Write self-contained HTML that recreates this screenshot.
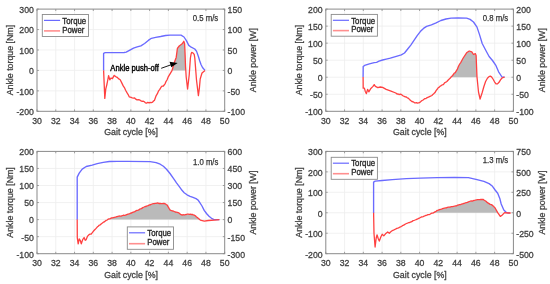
<!DOCTYPE html>
<html><head><meta charset="utf-8"><style>
html,body{margin:0;padding:0;background:#fff;}
body{width:550px;height:284px;overflow:hidden;}
svg{display:block;filter:blur(0.3px);}
text{font-family:"Liberation Sans", Arial, Helvetica, sans-serif;}
.t{font-size:8.7px;fill:#404040;stroke:#404040;stroke-width:0.28px;}
.l{font-size:8.8px;fill:#404040;stroke:#404040;stroke-width:0.28px;}
.g{font-size:8.4px;fill:#262626;stroke:#262626;stroke-width:0.32px;}
.s{font-size:8.7px;fill:#333;stroke:#333;stroke-width:0.25px;}
.a{font-size:8.3px;fill:#000;stroke:#000;stroke-width:0.38px;}
</style></head><body>
<svg width="550" height="284" viewBox="0 0 550 284">
<rect width="550" height="284" fill="#fff"/>
<line x1="55.77" y1="9.10" x2="55.77" y2="111.30" stroke="#eeeeee" stroke-width="0.8"/>
<line x1="74.54" y1="9.10" x2="74.54" y2="111.30" stroke="#eeeeee" stroke-width="0.8"/>
<line x1="93.31" y1="9.10" x2="93.31" y2="111.30" stroke="#eeeeee" stroke-width="0.8"/>
<line x1="112.08" y1="9.10" x2="112.08" y2="111.30" stroke="#eeeeee" stroke-width="0.8"/>
<line x1="130.85" y1="9.10" x2="130.85" y2="111.30" stroke="#eeeeee" stroke-width="0.8"/>
<line x1="149.62" y1="9.10" x2="149.62" y2="111.30" stroke="#eeeeee" stroke-width="0.8"/>
<line x1="168.39" y1="9.10" x2="168.39" y2="111.30" stroke="#eeeeee" stroke-width="0.8"/>
<line x1="187.16" y1="9.10" x2="187.16" y2="111.30" stroke="#eeeeee" stroke-width="0.8"/>
<line x1="205.93" y1="9.10" x2="205.93" y2="111.30" stroke="#eeeeee" stroke-width="0.8"/>
<line x1="37.00" y1="29.54" x2="224.70" y2="29.54" stroke="#eeeeee" stroke-width="0.8"/>
<line x1="37.00" y1="49.98" x2="224.70" y2="49.98" stroke="#eeeeee" stroke-width="0.8"/>
<line x1="37.00" y1="70.42" x2="224.70" y2="70.42" stroke="#eeeeee" stroke-width="0.8"/>
<line x1="37.00" y1="90.86" x2="224.70" y2="90.86" stroke="#eeeeee" stroke-width="0.8"/>
<polygon points="172.1,70.4 174.4,62.2 176.2,57.4 177.4,48.4 179.2,46.0 181.6,44.2 182.8,43.0 183.8,41.2 184.6,43.6 185.0,52.0 185.5,66.0 185.8,70.4" fill="#bababa"/>
<polyline points="103.6,70.4 103.6,53.4 105.2,52.7 112.0,52.6 120.0,52.6 124.0,52.5 126.2,52.2 129.9,50.2 133.5,48.2 137.2,46.9 140.9,45.9 144.6,43.5 148.3,40.4 151.4,38.3 155.7,37.3 160.6,36.5 165.6,35.5 170.0,35.1 181.0,35.2 184.0,37.0 186.4,40.6 188.8,45.4 191.2,47.2 194.8,49.0 196.6,51.4 198.4,56.5 199.6,60.5 201.0,64.5 202.5,67.5 205.0,70.4" fill="none" stroke="#6a6aff" stroke-width="1.35" stroke-linejoin="round"/>
<polyline points="103.6,70.4 104.8,98.4 105.8,88.8 107.0,84.0 108.6,75.6 109.8,79.8 111.0,78.0 112.4,78.6 114.2,75.4 116.0,76.8 117.2,77.3 118.4,78.6 120.2,79.8 122.0,83.4 123.2,85.9 124.4,87.6 125.6,90.3 126.8,92.4 128.0,94.3 129.2,96.8 130.2,97.1 131.2,97.4 132.2,97.8 133.4,98.1 134.6,98.0 135.8,99.2 137.0,99.8 138.2,99.6 139.4,99.8 140.6,100.6 141.8,101.3 143.0,101.2 144.2,101.6 145.4,102.8 146.6,103.1 147.8,102.3 149.0,102.8 150.2,102.5 151.4,102.6 152.6,102.2 153.5,101.0 154.4,100.4 156.2,95.6 157.4,93.7 158.6,90.8 159.8,89.4 161.0,87.2 162.2,86.1 163.4,86.0 165.2,83.6 166.1,81.3 167.0,80.0 168.4,76.6 172.0,70.6 174.4,62.2 176.2,57.4 177.4,48.4 179.2,46.0 181.6,44.2 182.8,43.0 183.8,41.2 184.6,43.6 185.0,52.0 185.5,66.0 186.2,77.0 187.6,89.0 189.2,75.0 190.4,58.0 191.2,53.5 191.8,52.4 193.0,53.0 194.2,54.4 194.8,58.0 196.5,80.0 198.4,95.6 199.4,88.0 200.2,79.0 202.0,73.0 205.0,70.4" fill="none" stroke="#ff4040" stroke-width="1.3" stroke-linejoin="round"/>
<line x1="37.00" y1="111.30" x2="37.00" y2="109.40" stroke="#8a8a8a" stroke-width="0.8"/>
<line x1="37.00" y1="9.10" x2="37.00" y2="11.00" stroke="#8a8a8a" stroke-width="0.8"/>
<line x1="55.77" y1="111.30" x2="55.77" y2="109.40" stroke="#8a8a8a" stroke-width="0.8"/>
<line x1="55.77" y1="9.10" x2="55.77" y2="11.00" stroke="#8a8a8a" stroke-width="0.8"/>
<line x1="74.54" y1="111.30" x2="74.54" y2="109.40" stroke="#8a8a8a" stroke-width="0.8"/>
<line x1="74.54" y1="9.10" x2="74.54" y2="11.00" stroke="#8a8a8a" stroke-width="0.8"/>
<line x1="93.31" y1="111.30" x2="93.31" y2="109.40" stroke="#8a8a8a" stroke-width="0.8"/>
<line x1="93.31" y1="9.10" x2="93.31" y2="11.00" stroke="#8a8a8a" stroke-width="0.8"/>
<line x1="112.08" y1="111.30" x2="112.08" y2="109.40" stroke="#8a8a8a" stroke-width="0.8"/>
<line x1="112.08" y1="9.10" x2="112.08" y2="11.00" stroke="#8a8a8a" stroke-width="0.8"/>
<line x1="130.85" y1="111.30" x2="130.85" y2="109.40" stroke="#8a8a8a" stroke-width="0.8"/>
<line x1="130.85" y1="9.10" x2="130.85" y2="11.00" stroke="#8a8a8a" stroke-width="0.8"/>
<line x1="149.62" y1="111.30" x2="149.62" y2="109.40" stroke="#8a8a8a" stroke-width="0.8"/>
<line x1="149.62" y1="9.10" x2="149.62" y2="11.00" stroke="#8a8a8a" stroke-width="0.8"/>
<line x1="168.39" y1="111.30" x2="168.39" y2="109.40" stroke="#8a8a8a" stroke-width="0.8"/>
<line x1="168.39" y1="9.10" x2="168.39" y2="11.00" stroke="#8a8a8a" stroke-width="0.8"/>
<line x1="187.16" y1="111.30" x2="187.16" y2="109.40" stroke="#8a8a8a" stroke-width="0.8"/>
<line x1="187.16" y1="9.10" x2="187.16" y2="11.00" stroke="#8a8a8a" stroke-width="0.8"/>
<line x1="205.93" y1="111.30" x2="205.93" y2="109.40" stroke="#8a8a8a" stroke-width="0.8"/>
<line x1="205.93" y1="9.10" x2="205.93" y2="11.00" stroke="#8a8a8a" stroke-width="0.8"/>
<line x1="224.70" y1="111.30" x2="224.70" y2="109.40" stroke="#8a8a8a" stroke-width="0.8"/>
<line x1="224.70" y1="9.10" x2="224.70" y2="11.00" stroke="#8a8a8a" stroke-width="0.8"/>
<line x1="37.00" y1="9.10" x2="38.90" y2="9.10" stroke="#8a8a8a" stroke-width="0.8"/>
<line x1="224.70" y1="9.10" x2="222.80" y2="9.10" stroke="#8a8a8a" stroke-width="0.8"/>
<line x1="37.00" y1="29.54" x2="38.90" y2="29.54" stroke="#8a8a8a" stroke-width="0.8"/>
<line x1="224.70" y1="29.54" x2="222.80" y2="29.54" stroke="#8a8a8a" stroke-width="0.8"/>
<line x1="37.00" y1="49.98" x2="38.90" y2="49.98" stroke="#8a8a8a" stroke-width="0.8"/>
<line x1="224.70" y1="49.98" x2="222.80" y2="49.98" stroke="#8a8a8a" stroke-width="0.8"/>
<line x1="37.00" y1="70.42" x2="38.90" y2="70.42" stroke="#8a8a8a" stroke-width="0.8"/>
<line x1="224.70" y1="70.42" x2="222.80" y2="70.42" stroke="#8a8a8a" stroke-width="0.8"/>
<line x1="37.00" y1="90.86" x2="38.90" y2="90.86" stroke="#8a8a8a" stroke-width="0.8"/>
<line x1="224.70" y1="90.86" x2="222.80" y2="90.86" stroke="#8a8a8a" stroke-width="0.8"/>
<line x1="37.00" y1="111.30" x2="38.90" y2="111.30" stroke="#8a8a8a" stroke-width="0.8"/>
<line x1="224.70" y1="111.30" x2="222.80" y2="111.30" stroke="#8a8a8a" stroke-width="0.8"/>
<rect x="37.00" y="9.10" width="187.70" height="102.20" fill="none" stroke="#8a8a8a" stroke-width="1"/>
<text x="37.00" y="123.60" text-anchor="middle" class="t">30</text>
<text x="55.77" y="123.60" text-anchor="middle" class="t">32</text>
<text x="74.54" y="123.60" text-anchor="middle" class="t">34</text>
<text x="93.31" y="123.60" text-anchor="middle" class="t">36</text>
<text x="112.08" y="123.60" text-anchor="middle" class="t">38</text>
<text x="130.85" y="123.60" text-anchor="middle" class="t">40</text>
<text x="149.62" y="123.60" text-anchor="middle" class="t">42</text>
<text x="168.39" y="123.60" text-anchor="middle" class="t">44</text>
<text x="187.16" y="123.60" text-anchor="middle" class="t">46</text>
<text x="205.93" y="123.60" text-anchor="middle" class="t">48</text>
<text x="224.70" y="123.60" text-anchor="middle" class="t">50</text>
<text x="33.80" y="12.95" text-anchor="end" class="t">300</text>
<text x="227.60" y="12.95" text-anchor="start" class="t">150</text>
<text x="33.80" y="33.39" text-anchor="end" class="t">200</text>
<text x="227.60" y="33.39" text-anchor="start" class="t">100</text>
<text x="33.80" y="53.83" text-anchor="end" class="t">100</text>
<text x="227.60" y="53.83" text-anchor="start" class="t">50</text>
<text x="33.80" y="74.27" text-anchor="end" class="t">0</text>
<text x="227.60" y="74.27" text-anchor="start" class="t">0</text>
<text x="33.80" y="94.71" text-anchor="end" class="t">-100</text>
<text x="227.60" y="94.71" text-anchor="start" class="t">-50</text>
<text x="33.80" y="115.15" text-anchor="end" class="t">-200</text>
<text x="227.60" y="115.15" text-anchor="start" class="t">-100</text>
<text x="131.15" y="135.30" text-anchor="middle" class="l">Gait cycle [%]</text>
<text transform="translate(13.30,60.10) rotate(-90)" text-anchor="middle" class="l">Ankle torque [Nm]</text>
<text transform="translate(256.10,60.20) rotate(-90)" text-anchor="middle" class="l">Ankle power [W]</text>
<line x1="344.56" y1="9.10" x2="344.56" y2="111.30" stroke="#eeeeee" stroke-width="0.8"/>
<line x1="363.32" y1="9.10" x2="363.32" y2="111.30" stroke="#eeeeee" stroke-width="0.8"/>
<line x1="382.08" y1="9.10" x2="382.08" y2="111.30" stroke="#eeeeee" stroke-width="0.8"/>
<line x1="400.84" y1="9.10" x2="400.84" y2="111.30" stroke="#eeeeee" stroke-width="0.8"/>
<line x1="419.60" y1="9.10" x2="419.60" y2="111.30" stroke="#eeeeee" stroke-width="0.8"/>
<line x1="438.36" y1="9.10" x2="438.36" y2="111.30" stroke="#eeeeee" stroke-width="0.8"/>
<line x1="457.12" y1="9.10" x2="457.12" y2="111.30" stroke="#eeeeee" stroke-width="0.8"/>
<line x1="475.88" y1="9.10" x2="475.88" y2="111.30" stroke="#eeeeee" stroke-width="0.8"/>
<line x1="494.64" y1="9.10" x2="494.64" y2="111.30" stroke="#eeeeee" stroke-width="0.8"/>
<line x1="325.80" y1="26.13" x2="513.40" y2="26.13" stroke="#eeeeee" stroke-width="0.8"/>
<line x1="325.80" y1="43.17" x2="513.40" y2="43.17" stroke="#eeeeee" stroke-width="0.8"/>
<line x1="325.80" y1="60.20" x2="513.40" y2="60.20" stroke="#eeeeee" stroke-width="0.8"/>
<line x1="325.80" y1="77.23" x2="513.40" y2="77.23" stroke="#eeeeee" stroke-width="0.8"/>
<line x1="325.80" y1="94.27" x2="513.40" y2="94.27" stroke="#eeeeee" stroke-width="0.8"/>
<polygon points="450.8,77.2 451.1,76.9 456.3,70.9 459.7,64.0 463.2,58.0 466.6,52.8 469.2,51.0 471.8,51.9 473.5,54.5 475.3,53.6 476.1,55.4 477.0,77.0 477.0,77.2" fill="#bababa"/>
<polyline points="363.1,77.1 363.2,66.6 364.6,65.4 369.4,63.8 374.2,62.6 376.6,62.4 379.0,61.2 382.6,60.0 386.2,59.2 390.3,58.2 396.3,56.3 401.3,54.9 404.5,53.0 407.7,49.0 410.8,45.1 414.0,40.3 417.2,35.6 420.3,31.6 423.5,28.4 426.6,26.4 431.4,24.8 436.1,22.9 440.9,20.5 445.9,19.0 451.1,18.2 458.0,18.0 466.6,18.2 470.1,19.4 473.5,22.0 477.0,27.1 479.6,34.9 482.2,43.5 485.6,50.0 489.1,56.5 492.5,60.5 496.0,65.7 498.6,71.8 502.0,77.0 504.6,77.1" fill="none" stroke="#6a6aff" stroke-width="1.35" stroke-linejoin="round"/>
<polyline points="363.1,77.1 363.2,88.2 364.4,88.2 365.2,91.2 366.4,93.6 367.6,89.4 368.8,91.8 370.6,88.8 373.0,86.4 374.2,84.6 375.4,86.4 377.8,87.6 380.2,87.0 382.6,87.4 386.2,89.4 391.0,91.2 395.8,93.0 397.0,94.0 398.2,94.0 399.2,94.7 400.2,94.2 401.3,94.5 402.3,95.2 403.3,96.0 404.3,96.4 405.3,96.9 406.3,97.0 407.3,97.8 408.3,98.2 409.5,99.4 410.7,100.5 411.9,101.5 413.2,101.8 414.5,102.8 415.4,102.8 416.4,102.7 417.4,103.1 418.3,102.9 419.2,102.8 420.2,102.1 421.2,101.1 422.1,100.5 423.1,100.0 424.0,99.3 424.9,98.6 425.9,98.6 426.9,97.6 427.9,97.5 429.0,96.8 430.0,96.3 431.0,95.9 431.9,95.5 432.9,94.4 433.9,93.6 434.8,92.8 436.1,90.6 437.4,89.0 438.3,87.7 439.3,87.1 440.2,86.1 441.2,85.6 442.1,84.9 443.1,84.7 444.0,83.7 445.0,82.5 445.9,82.1 446.9,81.5 448.0,80.3 449.0,79.2 450.1,78.3 451.1,76.9 452.1,76.0 453.2,74.8 454.2,73.2 455.3,72.6 456.3,70.9 457.4,69.1 458.6,66.0 459.7,64.0 460.9,62.3 462.0,60.2 463.2,58.0 466.6,52.8 469.2,51.0 471.8,51.9 473.5,54.5 475.3,53.6 476.1,55.4 477.0,77.0 478.5,92.0 480.1,99.0 482.2,92.5 483.9,86.5 485.6,81.5 487.4,78.3 489.0,76.6 490.3,76.2 491.5,76.8 493.0,79.0 494.5,81.8 496.0,83.8 497.5,83.9 499.0,82.3 500.5,79.8 502.0,78.0 503.5,77.3 504.6,77.2" fill="none" stroke="#ff4040" stroke-width="1.3" stroke-linejoin="round"/>
<line x1="325.80" y1="111.30" x2="325.80" y2="109.40" stroke="#8a8a8a" stroke-width="0.8"/>
<line x1="325.80" y1="9.10" x2="325.80" y2="11.00" stroke="#8a8a8a" stroke-width="0.8"/>
<line x1="344.56" y1="111.30" x2="344.56" y2="109.40" stroke="#8a8a8a" stroke-width="0.8"/>
<line x1="344.56" y1="9.10" x2="344.56" y2="11.00" stroke="#8a8a8a" stroke-width="0.8"/>
<line x1="363.32" y1="111.30" x2="363.32" y2="109.40" stroke="#8a8a8a" stroke-width="0.8"/>
<line x1="363.32" y1="9.10" x2="363.32" y2="11.00" stroke="#8a8a8a" stroke-width="0.8"/>
<line x1="382.08" y1="111.30" x2="382.08" y2="109.40" stroke="#8a8a8a" stroke-width="0.8"/>
<line x1="382.08" y1="9.10" x2="382.08" y2="11.00" stroke="#8a8a8a" stroke-width="0.8"/>
<line x1="400.84" y1="111.30" x2="400.84" y2="109.40" stroke="#8a8a8a" stroke-width="0.8"/>
<line x1="400.84" y1="9.10" x2="400.84" y2="11.00" stroke="#8a8a8a" stroke-width="0.8"/>
<line x1="419.60" y1="111.30" x2="419.60" y2="109.40" stroke="#8a8a8a" stroke-width="0.8"/>
<line x1="419.60" y1="9.10" x2="419.60" y2="11.00" stroke="#8a8a8a" stroke-width="0.8"/>
<line x1="438.36" y1="111.30" x2="438.36" y2="109.40" stroke="#8a8a8a" stroke-width="0.8"/>
<line x1="438.36" y1="9.10" x2="438.36" y2="11.00" stroke="#8a8a8a" stroke-width="0.8"/>
<line x1="457.12" y1="111.30" x2="457.12" y2="109.40" stroke="#8a8a8a" stroke-width="0.8"/>
<line x1="457.12" y1="9.10" x2="457.12" y2="11.00" stroke="#8a8a8a" stroke-width="0.8"/>
<line x1="475.88" y1="111.30" x2="475.88" y2="109.40" stroke="#8a8a8a" stroke-width="0.8"/>
<line x1="475.88" y1="9.10" x2="475.88" y2="11.00" stroke="#8a8a8a" stroke-width="0.8"/>
<line x1="494.64" y1="111.30" x2="494.64" y2="109.40" stroke="#8a8a8a" stroke-width="0.8"/>
<line x1="494.64" y1="9.10" x2="494.64" y2="11.00" stroke="#8a8a8a" stroke-width="0.8"/>
<line x1="513.40" y1="111.30" x2="513.40" y2="109.40" stroke="#8a8a8a" stroke-width="0.8"/>
<line x1="513.40" y1="9.10" x2="513.40" y2="11.00" stroke="#8a8a8a" stroke-width="0.8"/>
<line x1="325.80" y1="9.10" x2="327.70" y2="9.10" stroke="#8a8a8a" stroke-width="0.8"/>
<line x1="513.40" y1="9.10" x2="511.50" y2="9.10" stroke="#8a8a8a" stroke-width="0.8"/>
<line x1="325.80" y1="26.13" x2="327.70" y2="26.13" stroke="#8a8a8a" stroke-width="0.8"/>
<line x1="513.40" y1="26.13" x2="511.50" y2="26.13" stroke="#8a8a8a" stroke-width="0.8"/>
<line x1="325.80" y1="43.17" x2="327.70" y2="43.17" stroke="#8a8a8a" stroke-width="0.8"/>
<line x1="513.40" y1="43.17" x2="511.50" y2="43.17" stroke="#8a8a8a" stroke-width="0.8"/>
<line x1="325.80" y1="60.20" x2="327.70" y2="60.20" stroke="#8a8a8a" stroke-width="0.8"/>
<line x1="513.40" y1="60.20" x2="511.50" y2="60.20" stroke="#8a8a8a" stroke-width="0.8"/>
<line x1="325.80" y1="77.23" x2="327.70" y2="77.23" stroke="#8a8a8a" stroke-width="0.8"/>
<line x1="513.40" y1="77.23" x2="511.50" y2="77.23" stroke="#8a8a8a" stroke-width="0.8"/>
<line x1="325.80" y1="94.27" x2="327.70" y2="94.27" stroke="#8a8a8a" stroke-width="0.8"/>
<line x1="513.40" y1="94.27" x2="511.50" y2="94.27" stroke="#8a8a8a" stroke-width="0.8"/>
<line x1="325.80" y1="111.30" x2="327.70" y2="111.30" stroke="#8a8a8a" stroke-width="0.8"/>
<line x1="513.40" y1="111.30" x2="511.50" y2="111.30" stroke="#8a8a8a" stroke-width="0.8"/>
<rect x="325.80" y="9.10" width="187.60" height="102.20" fill="none" stroke="#8a8a8a" stroke-width="1"/>
<text x="325.80" y="123.60" text-anchor="middle" class="t">30</text>
<text x="344.56" y="123.60" text-anchor="middle" class="t">32</text>
<text x="363.32" y="123.60" text-anchor="middle" class="t">34</text>
<text x="382.08" y="123.60" text-anchor="middle" class="t">36</text>
<text x="400.84" y="123.60" text-anchor="middle" class="t">38</text>
<text x="419.60" y="123.60" text-anchor="middle" class="t">40</text>
<text x="438.36" y="123.60" text-anchor="middle" class="t">42</text>
<text x="457.12" y="123.60" text-anchor="middle" class="t">44</text>
<text x="475.88" y="123.60" text-anchor="middle" class="t">46</text>
<text x="494.64" y="123.60" text-anchor="middle" class="t">48</text>
<text x="513.40" y="123.60" text-anchor="middle" class="t">50</text>
<text x="322.60" y="12.95" text-anchor="end" class="t">200</text>
<text x="516.30" y="12.95" text-anchor="start" class="t">200</text>
<text x="322.60" y="29.98" text-anchor="end" class="t">150</text>
<text x="516.30" y="29.98" text-anchor="start" class="t">150</text>
<text x="322.60" y="47.02" text-anchor="end" class="t">100</text>
<text x="516.30" y="47.02" text-anchor="start" class="t">100</text>
<text x="322.60" y="64.05" text-anchor="end" class="t">50</text>
<text x="516.30" y="64.05" text-anchor="start" class="t">50</text>
<text x="322.60" y="81.08" text-anchor="end" class="t">0</text>
<text x="516.30" y="81.08" text-anchor="start" class="t">0</text>
<text x="322.60" y="98.12" text-anchor="end" class="t">-50</text>
<text x="516.30" y="98.12" text-anchor="start" class="t">-50</text>
<text x="322.60" y="115.15" text-anchor="end" class="t">-100</text>
<text x="516.30" y="115.15" text-anchor="start" class="t">-100</text>
<text x="419.90" y="135.30" text-anchor="middle" class="l">Gait cycle [%]</text>
<text transform="translate(302.10,60.10) rotate(-90)" text-anchor="middle" class="l">Ankle torque [Nm]</text>
<text transform="translate(544.80,60.20) rotate(-90)" text-anchor="middle" class="l">Ankle power [W]</text>
<line x1="55.77" y1="151.40" x2="55.77" y2="253.70" stroke="#eeeeee" stroke-width="0.8"/>
<line x1="74.54" y1="151.40" x2="74.54" y2="253.70" stroke="#eeeeee" stroke-width="0.8"/>
<line x1="93.31" y1="151.40" x2="93.31" y2="253.70" stroke="#eeeeee" stroke-width="0.8"/>
<line x1="112.08" y1="151.40" x2="112.08" y2="253.70" stroke="#eeeeee" stroke-width="0.8"/>
<line x1="130.85" y1="151.40" x2="130.85" y2="253.70" stroke="#eeeeee" stroke-width="0.8"/>
<line x1="149.62" y1="151.40" x2="149.62" y2="253.70" stroke="#eeeeee" stroke-width="0.8"/>
<line x1="168.39" y1="151.40" x2="168.39" y2="253.70" stroke="#eeeeee" stroke-width="0.8"/>
<line x1="187.16" y1="151.40" x2="187.16" y2="253.70" stroke="#eeeeee" stroke-width="0.8"/>
<line x1="205.93" y1="151.40" x2="205.93" y2="253.70" stroke="#eeeeee" stroke-width="0.8"/>
<line x1="37.00" y1="168.45" x2="224.70" y2="168.45" stroke="#eeeeee" stroke-width="0.8"/>
<line x1="37.00" y1="185.50" x2="224.70" y2="185.50" stroke="#eeeeee" stroke-width="0.8"/>
<line x1="37.00" y1="202.55" x2="224.70" y2="202.55" stroke="#eeeeee" stroke-width="0.8"/>
<line x1="37.00" y1="219.60" x2="224.70" y2="219.60" stroke="#eeeeee" stroke-width="0.8"/>
<line x1="37.00" y1="236.65" x2="224.70" y2="236.65" stroke="#eeeeee" stroke-width="0.8"/>
<polygon points="107.5,219.6 108.1,219.2 112.3,217.8 118.0,216.3 120.0,216.1 125.4,215.1 128.0,214.1 133.4,212.1 136.1,210.7 141.4,208.6 144.1,207.0 152.1,204.0 157.1,203.0 160.2,203.4 164.2,203.4 167.2,205.0 170.2,210.1 174.2,211.5 178.2,212.7 182.2,215.1 186.3,214.5 190.3,214.1 194.3,215.1 197.3,217.5 199.7,219.6" fill="#bababa"/>
<polyline points="77.2,219.7 77.2,177.1 79.2,173.1 82.2,169.1 86.2,166.5 92.2,165.1 97.2,163.7 103.3,162.4 109.3,161.5 117.3,161.3 127.4,161.3 150.1,161.6 156.1,162.6 160.2,164.2 163.4,166.3 166.5,169.2 170.0,173.5 173.6,178.6 176.5,182.8 179.5,186.8 182.0,190.3 184.2,192.7 187.0,194.8 190.1,196.3 193.0,197.4 196.0,198.6 198.0,200.0 199.5,202.2 202.0,206.0 204.2,210.4 206.5,213.5 209.0,216.3 211.5,218.3 213.7,219.3 215.4,219.6 219.4,219.6" fill="none" stroke="#6a6aff" stroke-width="1.35" stroke-linejoin="round"/>
<polyline points="77.2,219.6 77.3,238.0 78.2,243.8 79.2,238.9 80.2,240.3 81.3,243.8 82.7,239.6 84.1,237.5 85.2,240.3 86.2,239.6 87.6,236.1 89.0,234.7 90.1,234.2 91.2,234.0 92.1,232.9 93.1,231.6 94.0,230.5 95.0,229.5 96.1,228.4 97.2,227.1 98.2,226.2 99.2,225.2 100.3,224.8 101.4,223.7 102.4,223.0 103.4,222.2 104.3,221.9 105.3,221.0 106.2,220.4 107.2,220.0 108.1,219.2 109.1,218.8 110.2,218.6 111.2,218.0 112.3,217.8 113.2,217.6 114.2,217.5 115.2,217.1 116.1,216.9 117.0,216.6 118.0,216.3 119.0,216.0 120.0,216.1 120.9,216.1 121.8,215.8 122.7,215.5 123.6,215.2 124.5,215.4 125.4,215.1 126.7,214.6 128.0,214.1 128.9,213.9 129.8,213.6 130.7,213.2 131.6,213.0 132.5,212.4 133.4,212.1 134.8,211.6 136.1,210.7 137.2,210.3 138.2,210.1 139.3,209.6 140.3,208.8 141.4,208.6 142.8,207.6 144.1,207.0 145.1,206.5 146.1,206.5 147.1,205.8 148.1,205.6 149.1,205.0 150.1,204.8 151.1,204.3 152.1,204.0 153.1,203.7 154.1,203.6 155.1,203.4 156.1,203.4 157.1,203.0 158.1,203.2 159.2,203.5 160.2,203.4 161.2,203.6 162.2,203.6 163.2,203.5 164.2,203.4 165.2,203.8 166.2,204.6 167.2,205.0 168.2,206.9 169.2,208.6 170.2,210.1 171.2,210.5 172.2,210.9 173.2,211.0 174.2,211.5 175.2,212.0 176.2,212.1 177.2,212.3 178.2,212.7 179.2,213.1 180.2,214.1 181.2,214.7 182.2,215.1 183.2,214.7 184.2,215.0 185.3,214.6 186.3,214.5 187.3,214.2 188.3,214.2 189.3,214.3 190.3,214.1 191.3,214.5 192.3,214.4 193.3,214.9 194.3,215.1 195.3,215.7 196.3,216.8 197.3,217.5 200.3,220.1 204.3,221.1 208.4,220.5 214.4,220.1 219.4,219.7" fill="none" stroke="#ff4040" stroke-width="1.3" stroke-linejoin="round"/>
<line x1="37.00" y1="253.70" x2="37.00" y2="251.80" stroke="#8a8a8a" stroke-width="0.8"/>
<line x1="37.00" y1="151.40" x2="37.00" y2="153.30" stroke="#8a8a8a" stroke-width="0.8"/>
<line x1="55.77" y1="253.70" x2="55.77" y2="251.80" stroke="#8a8a8a" stroke-width="0.8"/>
<line x1="55.77" y1="151.40" x2="55.77" y2="153.30" stroke="#8a8a8a" stroke-width="0.8"/>
<line x1="74.54" y1="253.70" x2="74.54" y2="251.80" stroke="#8a8a8a" stroke-width="0.8"/>
<line x1="74.54" y1="151.40" x2="74.54" y2="153.30" stroke="#8a8a8a" stroke-width="0.8"/>
<line x1="93.31" y1="253.70" x2="93.31" y2="251.80" stroke="#8a8a8a" stroke-width="0.8"/>
<line x1="93.31" y1="151.40" x2="93.31" y2="153.30" stroke="#8a8a8a" stroke-width="0.8"/>
<line x1="112.08" y1="253.70" x2="112.08" y2="251.80" stroke="#8a8a8a" stroke-width="0.8"/>
<line x1="112.08" y1="151.40" x2="112.08" y2="153.30" stroke="#8a8a8a" stroke-width="0.8"/>
<line x1="130.85" y1="253.70" x2="130.85" y2="251.80" stroke="#8a8a8a" stroke-width="0.8"/>
<line x1="130.85" y1="151.40" x2="130.85" y2="153.30" stroke="#8a8a8a" stroke-width="0.8"/>
<line x1="149.62" y1="253.70" x2="149.62" y2="251.80" stroke="#8a8a8a" stroke-width="0.8"/>
<line x1="149.62" y1="151.40" x2="149.62" y2="153.30" stroke="#8a8a8a" stroke-width="0.8"/>
<line x1="168.39" y1="253.70" x2="168.39" y2="251.80" stroke="#8a8a8a" stroke-width="0.8"/>
<line x1="168.39" y1="151.40" x2="168.39" y2="153.30" stroke="#8a8a8a" stroke-width="0.8"/>
<line x1="187.16" y1="253.70" x2="187.16" y2="251.80" stroke="#8a8a8a" stroke-width="0.8"/>
<line x1="187.16" y1="151.40" x2="187.16" y2="153.30" stroke="#8a8a8a" stroke-width="0.8"/>
<line x1="205.93" y1="253.70" x2="205.93" y2="251.80" stroke="#8a8a8a" stroke-width="0.8"/>
<line x1="205.93" y1="151.40" x2="205.93" y2="153.30" stroke="#8a8a8a" stroke-width="0.8"/>
<line x1="224.70" y1="253.70" x2="224.70" y2="251.80" stroke="#8a8a8a" stroke-width="0.8"/>
<line x1="224.70" y1="151.40" x2="224.70" y2="153.30" stroke="#8a8a8a" stroke-width="0.8"/>
<line x1="37.00" y1="151.40" x2="38.90" y2="151.40" stroke="#8a8a8a" stroke-width="0.8"/>
<line x1="224.70" y1="151.40" x2="222.80" y2="151.40" stroke="#8a8a8a" stroke-width="0.8"/>
<line x1="37.00" y1="168.45" x2="38.90" y2="168.45" stroke="#8a8a8a" stroke-width="0.8"/>
<line x1="224.70" y1="168.45" x2="222.80" y2="168.45" stroke="#8a8a8a" stroke-width="0.8"/>
<line x1="37.00" y1="185.50" x2="38.90" y2="185.50" stroke="#8a8a8a" stroke-width="0.8"/>
<line x1="224.70" y1="185.50" x2="222.80" y2="185.50" stroke="#8a8a8a" stroke-width="0.8"/>
<line x1="37.00" y1="202.55" x2="38.90" y2="202.55" stroke="#8a8a8a" stroke-width="0.8"/>
<line x1="224.70" y1="202.55" x2="222.80" y2="202.55" stroke="#8a8a8a" stroke-width="0.8"/>
<line x1="37.00" y1="219.60" x2="38.90" y2="219.60" stroke="#8a8a8a" stroke-width="0.8"/>
<line x1="224.70" y1="219.60" x2="222.80" y2="219.60" stroke="#8a8a8a" stroke-width="0.8"/>
<line x1="37.00" y1="236.65" x2="38.90" y2="236.65" stroke="#8a8a8a" stroke-width="0.8"/>
<line x1="224.70" y1="236.65" x2="222.80" y2="236.65" stroke="#8a8a8a" stroke-width="0.8"/>
<line x1="37.00" y1="253.70" x2="38.90" y2="253.70" stroke="#8a8a8a" stroke-width="0.8"/>
<line x1="224.70" y1="253.70" x2="222.80" y2="253.70" stroke="#8a8a8a" stroke-width="0.8"/>
<rect x="37.00" y="151.40" width="187.70" height="102.30" fill="none" stroke="#8a8a8a" stroke-width="1"/>
<text x="37.00" y="265.60" text-anchor="middle" class="t">30</text>
<text x="55.77" y="265.60" text-anchor="middle" class="t">32</text>
<text x="74.54" y="265.60" text-anchor="middle" class="t">34</text>
<text x="93.31" y="265.60" text-anchor="middle" class="t">36</text>
<text x="112.08" y="265.60" text-anchor="middle" class="t">38</text>
<text x="130.85" y="265.60" text-anchor="middle" class="t">40</text>
<text x="149.62" y="265.60" text-anchor="middle" class="t">42</text>
<text x="168.39" y="265.60" text-anchor="middle" class="t">44</text>
<text x="187.16" y="265.60" text-anchor="middle" class="t">46</text>
<text x="205.93" y="265.60" text-anchor="middle" class="t">48</text>
<text x="224.70" y="265.60" text-anchor="middle" class="t">50</text>
<text x="33.80" y="155.25" text-anchor="end" class="t">200</text>
<text x="227.60" y="155.25" text-anchor="start" class="t">600</text>
<text x="33.80" y="172.30" text-anchor="end" class="t">150</text>
<text x="227.60" y="172.30" text-anchor="start" class="t">450</text>
<text x="33.80" y="189.35" text-anchor="end" class="t">100</text>
<text x="227.60" y="189.35" text-anchor="start" class="t">300</text>
<text x="33.80" y="206.40" text-anchor="end" class="t">50</text>
<text x="227.60" y="206.40" text-anchor="start" class="t">150</text>
<text x="33.80" y="223.45" text-anchor="end" class="t">0</text>
<text x="227.60" y="223.45" text-anchor="start" class="t">0</text>
<text x="33.80" y="240.50" text-anchor="end" class="t">-50</text>
<text x="227.60" y="240.50" text-anchor="start" class="t">-150</text>
<text x="33.80" y="257.55" text-anchor="end" class="t">-100</text>
<text x="227.60" y="257.55" text-anchor="start" class="t">-300</text>
<text x="131.15" y="277.70" text-anchor="middle" class="l">Gait cycle [%]</text>
<text transform="translate(13.30,202.45) rotate(-90)" text-anchor="middle" class="l">Ankle torque [Nm]</text>
<text transform="translate(256.10,202.55) rotate(-90)" text-anchor="middle" class="l">Ankle power [W]</text>
<line x1="344.56" y1="151.40" x2="344.56" y2="253.70" stroke="#eeeeee" stroke-width="0.8"/>
<line x1="363.32" y1="151.40" x2="363.32" y2="253.70" stroke="#eeeeee" stroke-width="0.8"/>
<line x1="382.08" y1="151.40" x2="382.08" y2="253.70" stroke="#eeeeee" stroke-width="0.8"/>
<line x1="400.84" y1="151.40" x2="400.84" y2="253.70" stroke="#eeeeee" stroke-width="0.8"/>
<line x1="419.60" y1="151.40" x2="419.60" y2="253.70" stroke="#eeeeee" stroke-width="0.8"/>
<line x1="438.36" y1="151.40" x2="438.36" y2="253.70" stroke="#eeeeee" stroke-width="0.8"/>
<line x1="457.12" y1="151.40" x2="457.12" y2="253.70" stroke="#eeeeee" stroke-width="0.8"/>
<line x1="475.88" y1="151.40" x2="475.88" y2="253.70" stroke="#eeeeee" stroke-width="0.8"/>
<line x1="494.64" y1="151.40" x2="494.64" y2="253.70" stroke="#eeeeee" stroke-width="0.8"/>
<line x1="325.80" y1="171.86" x2="513.40" y2="171.86" stroke="#eeeeee" stroke-width="0.8"/>
<line x1="325.80" y1="192.32" x2="513.40" y2="192.32" stroke="#eeeeee" stroke-width="0.8"/>
<line x1="325.80" y1="212.78" x2="513.40" y2="212.78" stroke="#eeeeee" stroke-width="0.8"/>
<line x1="325.80" y1="233.24" x2="513.40" y2="233.24" stroke="#eeeeee" stroke-width="0.8"/>
<polygon points="433.3,212.8 433.8,212.6 437.3,210.3 442.5,208.7 449.4,207.1 454.5,206.2 461.5,204.2 468.4,201.9 475.3,200.2 478.7,199.7 483.0,199.3 485.6,201.0 489.1,203.6 492.5,205.4 495.1,208.0 497.7,212.6 497.8,212.8" fill="#bababa"/>
<polyline points="373.6,212.9 373.6,182.1 375.2,181.1 382.2,180.5 392.3,179.7 406.3,178.7 420.4,178.1 437.3,177.6 454.5,177.3 468.4,177.6 477.0,179.6 483.9,181.4 489.1,183.6 492.5,186.3 495.1,190.0 497.7,193.2 499.8,198.4 501.2,204.0 503.8,210.0 506.4,212.6 509.8,213.0" fill="none" stroke="#6a6aff" stroke-width="1.35" stroke-linejoin="round"/>
<polyline points="373.6,212.8 374.0,233.5 375.1,247.0 376.2,238.0 377.0,234.8 378.2,238.5 379.3,241.1 380.8,237.0 382.2,234.3 383.8,235.9 385.5,233.8 387.7,232.0 389.3,233.2 390.5,232.0 391.7,231.1 392.6,230.4 393.6,230.1 394.6,229.5 395.5,229.2 396.5,228.5 397.6,228.2 398.6,227.9 399.6,227.2 400.6,226.9 401.6,226.3 402.6,225.6 403.6,225.2 404.5,224.6 405.5,224.0 406.5,223.5 407.5,223.2 408.4,222.7 409.4,222.6 410.3,222.2 411.2,221.8 412.2,221.4 413.1,220.6 414.1,220.3 415.0,220.0 416.1,219.6 417.2,219.1 418.2,218.7 419.3,218.2 420.4,217.5 421.3,217.0 422.3,216.9 423.2,216.6 424.1,216.2 425.0,215.7 426.0,215.5 426.9,215.2 427.9,214.6 428.9,214.7 429.9,214.3 430.8,213.7 431.8,213.2 432.8,213.2 433.8,212.6 435.0,211.9 436.1,211.3 437.3,210.3 438.3,210.2 439.4,209.7 440.4,209.3 441.5,209.1 442.5,208.7 443.5,208.4 444.5,208.1 445.5,207.9 446.4,207.9 447.4,207.3 448.4,207.1 449.4,207.1 450.4,207.0 451.4,206.6 452.5,206.6 453.5,206.4 454.5,206.2 455.5,205.8 456.5,205.9 457.5,205.2 458.5,205.0 459.5,204.6 460.5,204.6 461.5,204.2 462.5,203.8 463.5,203.5 464.5,203.3 465.4,202.8 466.4,202.6 467.4,202.4 468.4,201.9 469.4,201.5 470.4,201.2 471.4,201.0 472.3,201.1 473.3,200.7 474.3,200.3 475.3,200.2 476.4,199.9 477.6,199.7 478.7,199.7 479.8,199.6 480.9,199.3 481.9,199.5 483.0,199.3 484.3,200.3 485.6,201.0 486.8,202.1 487.9,202.9 489.1,203.6 490.2,204.4 491.4,204.6 492.5,205.4 493.8,206.6 495.1,208.0 497.7,212.6 500.3,216.4 502.0,215.2 504.6,212.6 508.1,213.0 510.7,213.0" fill="none" stroke="#ff4040" stroke-width="1.3" stroke-linejoin="round"/>
<line x1="325.80" y1="253.70" x2="325.80" y2="251.80" stroke="#8a8a8a" stroke-width="0.8"/>
<line x1="325.80" y1="151.40" x2="325.80" y2="153.30" stroke="#8a8a8a" stroke-width="0.8"/>
<line x1="344.56" y1="253.70" x2="344.56" y2="251.80" stroke="#8a8a8a" stroke-width="0.8"/>
<line x1="344.56" y1="151.40" x2="344.56" y2="153.30" stroke="#8a8a8a" stroke-width="0.8"/>
<line x1="363.32" y1="253.70" x2="363.32" y2="251.80" stroke="#8a8a8a" stroke-width="0.8"/>
<line x1="363.32" y1="151.40" x2="363.32" y2="153.30" stroke="#8a8a8a" stroke-width="0.8"/>
<line x1="382.08" y1="253.70" x2="382.08" y2="251.80" stroke="#8a8a8a" stroke-width="0.8"/>
<line x1="382.08" y1="151.40" x2="382.08" y2="153.30" stroke="#8a8a8a" stroke-width="0.8"/>
<line x1="400.84" y1="253.70" x2="400.84" y2="251.80" stroke="#8a8a8a" stroke-width="0.8"/>
<line x1="400.84" y1="151.40" x2="400.84" y2="153.30" stroke="#8a8a8a" stroke-width="0.8"/>
<line x1="419.60" y1="253.70" x2="419.60" y2="251.80" stroke="#8a8a8a" stroke-width="0.8"/>
<line x1="419.60" y1="151.40" x2="419.60" y2="153.30" stroke="#8a8a8a" stroke-width="0.8"/>
<line x1="438.36" y1="253.70" x2="438.36" y2="251.80" stroke="#8a8a8a" stroke-width="0.8"/>
<line x1="438.36" y1="151.40" x2="438.36" y2="153.30" stroke="#8a8a8a" stroke-width="0.8"/>
<line x1="457.12" y1="253.70" x2="457.12" y2="251.80" stroke="#8a8a8a" stroke-width="0.8"/>
<line x1="457.12" y1="151.40" x2="457.12" y2="153.30" stroke="#8a8a8a" stroke-width="0.8"/>
<line x1="475.88" y1="253.70" x2="475.88" y2="251.80" stroke="#8a8a8a" stroke-width="0.8"/>
<line x1="475.88" y1="151.40" x2="475.88" y2="153.30" stroke="#8a8a8a" stroke-width="0.8"/>
<line x1="494.64" y1="253.70" x2="494.64" y2="251.80" stroke="#8a8a8a" stroke-width="0.8"/>
<line x1="494.64" y1="151.40" x2="494.64" y2="153.30" stroke="#8a8a8a" stroke-width="0.8"/>
<line x1="513.40" y1="253.70" x2="513.40" y2="251.80" stroke="#8a8a8a" stroke-width="0.8"/>
<line x1="513.40" y1="151.40" x2="513.40" y2="153.30" stroke="#8a8a8a" stroke-width="0.8"/>
<line x1="325.80" y1="151.40" x2="327.70" y2="151.40" stroke="#8a8a8a" stroke-width="0.8"/>
<line x1="513.40" y1="151.40" x2="511.50" y2="151.40" stroke="#8a8a8a" stroke-width="0.8"/>
<line x1="325.80" y1="171.86" x2="327.70" y2="171.86" stroke="#8a8a8a" stroke-width="0.8"/>
<line x1="513.40" y1="171.86" x2="511.50" y2="171.86" stroke="#8a8a8a" stroke-width="0.8"/>
<line x1="325.80" y1="192.32" x2="327.70" y2="192.32" stroke="#8a8a8a" stroke-width="0.8"/>
<line x1="513.40" y1="192.32" x2="511.50" y2="192.32" stroke="#8a8a8a" stroke-width="0.8"/>
<line x1="325.80" y1="212.78" x2="327.70" y2="212.78" stroke="#8a8a8a" stroke-width="0.8"/>
<line x1="513.40" y1="212.78" x2="511.50" y2="212.78" stroke="#8a8a8a" stroke-width="0.8"/>
<line x1="325.80" y1="233.24" x2="327.70" y2="233.24" stroke="#8a8a8a" stroke-width="0.8"/>
<line x1="513.40" y1="233.24" x2="511.50" y2="233.24" stroke="#8a8a8a" stroke-width="0.8"/>
<line x1="325.80" y1="253.70" x2="327.70" y2="253.70" stroke="#8a8a8a" stroke-width="0.8"/>
<line x1="513.40" y1="253.70" x2="511.50" y2="253.70" stroke="#8a8a8a" stroke-width="0.8"/>
<rect x="325.80" y="151.40" width="187.60" height="102.30" fill="none" stroke="#8a8a8a" stroke-width="1"/>
<text x="325.80" y="265.60" text-anchor="middle" class="t">30</text>
<text x="344.56" y="265.60" text-anchor="middle" class="t">32</text>
<text x="363.32" y="265.60" text-anchor="middle" class="t">34</text>
<text x="382.08" y="265.60" text-anchor="middle" class="t">36</text>
<text x="400.84" y="265.60" text-anchor="middle" class="t">38</text>
<text x="419.60" y="265.60" text-anchor="middle" class="t">40</text>
<text x="438.36" y="265.60" text-anchor="middle" class="t">42</text>
<text x="457.12" y="265.60" text-anchor="middle" class="t">44</text>
<text x="475.88" y="265.60" text-anchor="middle" class="t">46</text>
<text x="494.64" y="265.60" text-anchor="middle" class="t">48</text>
<text x="513.40" y="265.60" text-anchor="middle" class="t">50</text>
<text x="322.60" y="155.25" text-anchor="end" class="t">300</text>
<text x="516.30" y="155.25" text-anchor="start" class="t">750</text>
<text x="322.60" y="175.71" text-anchor="end" class="t">200</text>
<text x="516.30" y="175.71" text-anchor="start" class="t">500</text>
<text x="322.60" y="196.17" text-anchor="end" class="t">100</text>
<text x="516.30" y="196.17" text-anchor="start" class="t">250</text>
<text x="322.60" y="216.63" text-anchor="end" class="t">0</text>
<text x="516.30" y="216.63" text-anchor="start" class="t">0</text>
<text x="322.60" y="237.09" text-anchor="end" class="t">-100</text>
<text x="516.30" y="237.09" text-anchor="start" class="t">-250</text>
<text x="322.60" y="257.55" text-anchor="end" class="t">-200</text>
<text x="516.30" y="257.55" text-anchor="start" class="t">-500</text>
<text x="419.90" y="277.70" text-anchor="middle" class="l">Gait cycle [%]</text>
<text transform="translate(302.10,202.45) rotate(-90)" text-anchor="middle" class="l">Ankle torque [Nm]</text>
<text transform="translate(544.80,202.55) rotate(-90)" text-anchor="middle" class="l">Ankle power [W]</text>
<rect x="42.30" y="14.50" width="46.20" height="22.00" fill="#fff" stroke="#8a8a8a" stroke-width="0.9"/>
<line x1="44.00" y1="20.40" x2="60.10" y2="20.40" stroke="#6a6aff" stroke-width="1.2"/>
<line x1="44.00" y1="30.90" x2="60.10" y2="30.90" stroke="#ff8f8f" stroke-width="1.6"/>
<text transform="translate(62.30,23.60) scale(0.93,1)" class="g">Torque</text>
<text transform="translate(62.30,32.60) scale(0.93,1)" class="g">Power</text>
<rect x="331.20" y="14.40" width="46.20" height="21.80" fill="#fff" stroke="#8a8a8a" stroke-width="0.9"/>
<line x1="332.90" y1="20.30" x2="349.00" y2="20.30" stroke="#6a6aff" stroke-width="1.2"/>
<line x1="332.90" y1="30.60" x2="349.00" y2="30.60" stroke="#ff8f8f" stroke-width="1.6"/>
<text transform="translate(351.20,23.50) scale(0.93,1)" class="g">Torque</text>
<text transform="translate(351.20,32.30) scale(0.93,1)" class="g">Power</text>
<rect x="127.30" y="226.90" width="46.20" height="22.40" fill="#fff" stroke="#8a8a8a" stroke-width="0.9"/>
<line x1="129.00" y1="232.80" x2="145.10" y2="232.80" stroke="#6a6aff" stroke-width="1.2"/>
<line x1="129.00" y1="243.70" x2="145.10" y2="243.70" stroke="#ff8f8f" stroke-width="1.6"/>
<text transform="translate(147.30,236.00) scale(0.93,1)" class="g">Torque</text>
<text transform="translate(147.30,245.40) scale(0.93,1)" class="g">Power</text>
<rect x="331.20" y="157.30" width="46.20" height="22.00" fill="#fff" stroke="#8a8a8a" stroke-width="0.9"/>
<line x1="332.90" y1="163.20" x2="349.00" y2="163.20" stroke="#6a6aff" stroke-width="1.2"/>
<line x1="332.90" y1="173.70" x2="349.00" y2="173.70" stroke="#ff8f8f" stroke-width="1.6"/>
<text transform="translate(351.20,166.40) scale(0.93,1)" class="g">Torque</text>
<text transform="translate(351.20,175.40) scale(0.93,1)" class="g">Power</text>
<text x="192.80" y="20.60" class="s" textLength="25.4" lengthAdjust="spacingAndGlyphs">0.5 m/s</text>
<text x="482.80" y="20.60" class="s" textLength="25.4" lengthAdjust="spacingAndGlyphs">0.8 m/s</text>
<text x="193.00" y="164.70" class="s" textLength="25.4" lengthAdjust="spacingAndGlyphs">1.0 m/s</text>
<text x="482.80" y="162.60" class="s" textLength="25.4" lengthAdjust="spacingAndGlyphs">1.3 m/s</text>
<text transform="translate(110.3,71.2) scale(0.92,1)" class="a">Ankle push-off</text>
<line x1="161.2" y1="68.3" x2="171" y2="64.8" stroke="#000" stroke-width="0.9"/>
<polygon points="177.6,63.0 169.5,61.8 171.3,67.2" fill="#000"/>
</svg>
</body></html>
